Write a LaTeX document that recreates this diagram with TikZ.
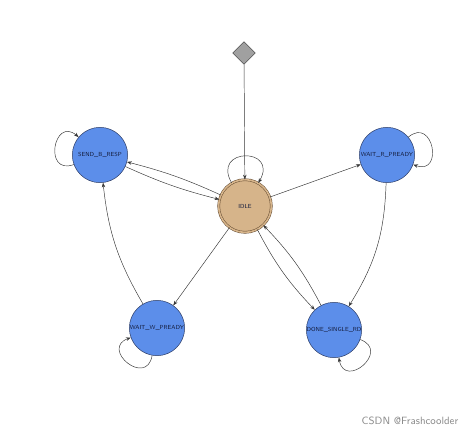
\documentclass[tikz,border=0pt]{standalone}
\usepackage{tikz}
\usetikzlibrary{shapes.geometric, arrows.meta}

\definecolor{stateblue}{RGB}{92,142,234}
\definecolor{stateedge}{RGB}{40,55,95}
\definecolor{idletan}{RGB}{214,180,138}
\definecolor{idleedge}{RGB}{95,70,45}
\definecolor{edgegray}{RGB}{55,55,55}
\definecolor{labelnavy}{RGB}{20,28,60}
\definecolor{markgray}{RGB}{160,160,160}

\tikzset{
    state/.style = {circle, minimum size=1.66cm, inner sep=0pt, fill=stateblue, draw=stateedge, line width=.4pt,
        text=labelnavy, font=\fontsize{5}{6}\selectfont\sffamily},
    idlestate/.style = {state, fill=idletan, draw=idleedge, double=idletan, double distance=1.4pt, minimum size=1.58cm},
    startmark/.style = {diamond, minimum size=0.68cm, inner sep=0pt, fill=markgray, draw=black!70, line width=.4pt},
    trans/.style = {->, draw=edgegray, line width=.4pt},
    >={Stealth[length=4pt, width=3pt]}
}

\begin{document}
\begin{tikzpicture}[x=0.03cm, y=-0.03cm]
    \useasboundingbox (0,0) rectangle (474,438);
    % States
    \node[startmark] (start) at (244,53) {};
    \node[idlestate] (idle) at (245,206) {IDLE};
    \foreach \name/\label/\x/\y in {send/SEND\_B\_RESP/100/155, waitr/WAIT\_R\_PREADY/387/155,
        waitw/WAIT\_W\_PREADY/157/328, done/DONE\_SINGLE\_RD/334/330} {
        \node[state] (\name) at (\x,\y) {\label};
    }
    % Transitions
    \draw[trans] (start) -- (idle);
    \draw[trans] (idle) to[out=120, in=60, looseness=4] (idle);
    \draw[trans] (idle) to[bend right=5] (send);
    \draw[trans] (send) to[bend right=5] (idle);
    \draw[trans] (idle) -- (waitr);
    \draw[trans] (idle) -- (waitw);
    \draw[trans] (idle) to[bend right=8] (done);
    \draw[trans] (done) to[bend right=8] (idle);
    \draw[trans] (waitw) to[bend left=12] (send);
    \draw[trans] (waitr) to[bend left=15] (done);
    % Self loops
    \draw[trans] (send) to[out=200, in=140, looseness=3] (send);
    \draw[trans] (waitr) to[out=40, in=-20, looseness=3] (waitr);
    \draw[trans] (waitw) to[out=260, in=200, looseness=3] (waitw);
    \draw[trans] (done) to[out=-20, in=-80, looseness=3] (done);
    % Watermark
    \node[text=black!45, font=\fontsize{9}{10}\selectfont\sffamily] (mark) at (410,421) {CSDN @Frashcoolder};
\end{tikzpicture}
\end{document}
